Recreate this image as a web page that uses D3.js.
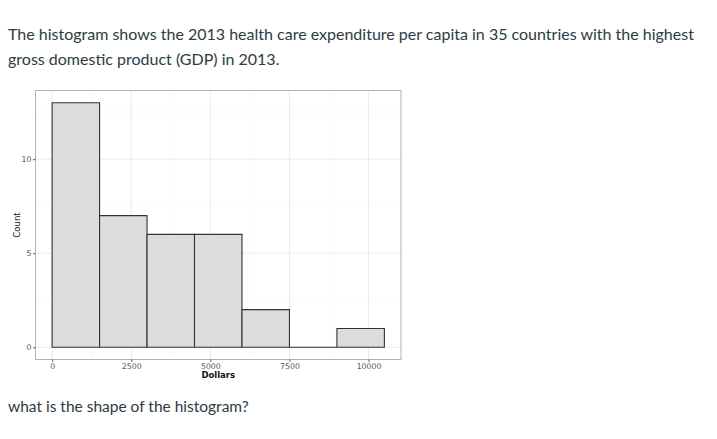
<!DOCTYPE html>
<html>
<head>
<meta charset="utf-8">
<script src="https://cdn.jsdelivr.net/npm/d3@7"></script>
<style>
  body { margin: 0; background: #fff; }
  svg { display: block; }
</style>
</head>
<body>
<svg id="chart" width="717" height="439"></svg>
<script>
// histogram bins (dollars) and counts
const binEdges = [0, 1500, 3000, 4500, 6000, 7500, 9000, 10500];
const counts = [13, 7, 6, 6, 2, 0, 1];
const xTicks = [0, 2500, 5000, 7500, 10000];
const xMinor = [1250, 3750, 6250, 8750];
const yTicks = [0, 5, 10];
const yMinor = [2.5, 7.5, 12.5];

const textColor = '#2d3b45';
const svg = d3.select('#chart');

// question text
svg.append('text')
  .attr('x', 8).attr('y', 40)
  .attr('font-family', 'Lato').attr('font-size', 16)
  .attr('fill', textColor)
  .text('The histogram shows the 2013 health care expenditure per capita in 35 countries with the highest');
svg.append('text')
  .attr('x', 8).attr('y', 65)
  .attr('font-family', 'Lato').attr('font-size', 16)
  .attr('fill', textColor)
  .text('gross domestic product (GDP) in 2013.');
svg.append('text')
  .attr('x', 8).attr('y', 412)
  .attr('font-family', 'Lato').attr('font-size', 15.5)
  .attr('fill', textColor)
  .text('what is the shape of the histogram?');

const panel = { left: 35.5, right: 401, top: 90.5, bottom: 359.5 };

const x = d3.scaleLinear()
  .domain([-525, 11025])
  .range([panel.left, panel.right]);

const y = d3.scaleLinear()
  .domain([-0.65, 13.65])
  .range([panel.bottom, panel.top]);

const g = svg.append('g');

// grid
g.selectAll('.xminor').data(xMinor).join('line')
  .attr('x1', d => x(d)).attr('x2', d => x(d))
  .attr('y1', panel.top).attr('y2', panel.bottom)
  .attr('stroke', '#f5f5f5').attr('stroke-width', 0.5);
g.selectAll('.yminor').data(yMinor).join('line')
  .attr('y1', d => y(d)).attr('y2', d => y(d))
  .attr('x1', panel.left).attr('x2', panel.right)
  .attr('stroke', '#f5f5f5').attr('stroke-width', 0.5);
g.selectAll('.xmajor').data(xTicks).join('line')
  .attr('x1', d => x(d)).attr('x2', d => x(d))
  .attr('y1', panel.top).attr('y2', panel.bottom)
  .attr('stroke', '#ebebeb').attr('stroke-width', 1);
g.selectAll('.ymajor').data(yTicks).join('line')
  .attr('y1', d => y(d)).attr('y2', d => y(d))
  .attr('x1', panel.left).attr('x2', panel.right)
  .attr('stroke', '#ebebeb').attr('stroke-width', 1);

// bars (paths so an empty bin still shows its outline at zero)
const bins = counts.map((c, i) => ({ x0: binEdges[i], x1: binEdges[i + 1], count: c }));
g.selectAll('path.bar').data(bins).join('path')
  .attr('class', 'bar')
  .attr('d', d => `M${x(d.x0)},${y(0)}V${y(d.count)}H${x(d.x1)}V${y(0)}Z`)
  .attr('fill', '#dcdcdc')
  .attr('stroke', '#333')
  .attr('stroke-width', 1.1);

// panel border
g.append('rect')
  .attr('x', panel.left).attr('y', panel.top)
  .attr('width', panel.right - panel.left)
  .attr('height', panel.bottom - panel.top)
  .attr('fill', 'none')
  .attr('stroke', '#b3b3b3').attr('stroke-width', 1);

// axes
const xAxis = svg.append('g')
  .attr('transform', `translate(0,${panel.bottom})`)
  .call(d3.axisBottom(x).tickValues(xTicks).tickSize(2.5).tickPadding(1.5).tickFormat(d3.format('d')));
const yAxis = svg.append('g')
  .attr('transform', `translate(${panel.left},0)`)
  .call(d3.axisLeft(y).tickValues(yTicks).tickSize(2.5).tickPadding(1.5));

[xAxis, yAxis].forEach(a => {
  a.select('.domain').remove();
  a.selectAll('.tick line').attr('stroke', '#333').attr('stroke-width', 0.8);
  a.selectAll('.tick text')
    .attr('fill', '#595959')
    .attr('font-family', 'DejaVu Sans')
    .attr('font-size', 7.8);
});

// axis titles
svg.append('text')
  .attr('x', (panel.left + panel.right) / 2)
  .attr('y', 377.5)
  .attr('text-anchor', 'middle')
  .attr('font-family', 'DejaVu Sans')
  .attr('font-weight', 'bold')
  .attr('font-size', 8.5)
  .attr('fill', '#111')
  .text('Dollars');
svg.append('text')
  .attr('transform', `translate(20,${(panel.top + panel.bottom) / 2}) rotate(-90)`)
  .attr('text-anchor', 'middle')
  .attr('font-family', 'DejaVu Sans')
  .attr('font-size', 8.5)
  .attr('fill', '#111')
  .text('Count');
</script>
</body>
</html>
